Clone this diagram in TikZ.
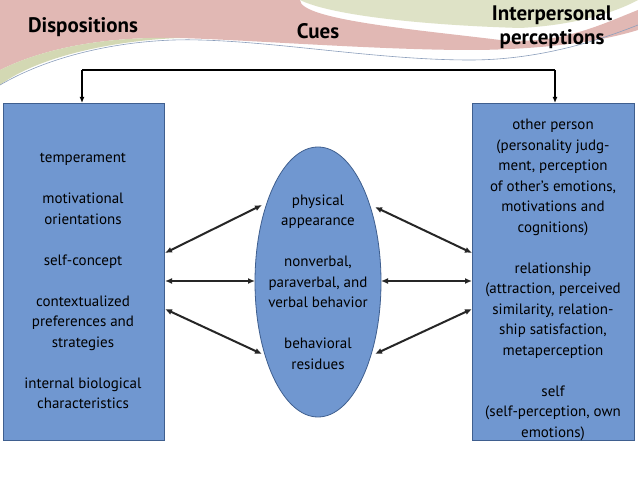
\documentclass[tikz,border=0pt]{standalone}
\usepackage{fontspec}
\setmainfont{PT Sans}
\usetikzlibrary{arrows.meta,shapes.geometric}
\definecolor{boxc}{HTML}{7097D0}
\definecolor{edgec}{HTML}{3F5F8F}
\definecolor{pinkc}{HTML}{D49A94}
\definecolor{greenc}{HTML}{C8CFA0}
\begin{document}
\begin{tikzpicture}[x=1pt,y=-1pt,
  box/.style={draw=edgec,fill=boxc,line width=0.8pt},
  txt/.style={align=center,font=\fontsize{15}{20.5}\selectfont,text=black},
  head/.style={font=\fontsize{21}{24}\selectfont\bfseries,align=center},
  dbl/.style={{Latex[length=7pt,width=6pt]}-{Latex[length=7pt,width=6pt]},line width=2pt,draw=black!85},
  con/.style={-{Latex[length=6pt,width=5pt]},line width=1.6pt}]
\useasboundingbox (0,0) rectangle (638,478);
\fill[white] (0,0) rectangle (638,478);
% decorative header
\fill[pinkc!70] (0,0) -- (300,0) .. controls (300,20) and (420,30) .. (500,40) .. controls (560,45) and (600,25) .. (638,10) -- (638,30) .. controls (590,45) and (520,50) .. (470,50) .. controls (380,50) and (250,40) .. (180,38) .. controls (100,36) and (40,50) .. (0,70) -- cycle;
\fill[greenc!80] (0,70) .. controls (40,50) and (100,36) .. (180,38) .. controls (120,40) and (40,55) .. (0,85) -- cycle;
\fill[greenc!60] (300,0) .. controls (330,15) and (420,25) .. (520,28) .. controls (580,25) and (620,10) .. (638,0) -- cycle;
\draw[edgec!60,line width=0.6pt] (0,85) .. controls (60,50) and (140,38) .. (200,40) .. controls (280,42) and (380,60) .. (470,60) .. controls (540,60) and (600,40) .. (638,25);
% headers
\node[head] (hd) at (83,27) {Dispositions};
\node[head] (hc) at (318,31) {Cues};
\node[head] (hi) at (552,27) {Interpersonal\\perceptions};
% boxes
\node[box,minimum width=161pt,minimum height=337pt,anchor=north west] (L) at (3,103) {};
\node[box,minimum width=162pt,minimum height=337pt,anchor=north west] (R) at (472,103) {};
\node[box,ellipse,minimum width=126pt,minimum height=270pt] (E) at (318,282) {};
\node[txt] (lt) at (83,281) {temperament\\[20.5pt]motivational\\orientations\\[20.5pt]self-concept\\[20.5pt]contextualized\\preferences and\\strategies\\[20.5pt]internal biological\\characteristics};
\node[txt] (et) at (318,282) {physical\\appearance\\[20.5pt]nonverbal,\\paraverbal, and\\verbal behavior\\[20.5pt]behavioral\\residues};
\node[txt] (rt) at (553,280) {other person\\(personality judg-\\ment, perception\\of other's emotions,\\motivations and\\cognitions)\\[20.5pt]relationship\\(attraction, perceived\\similarity, relation-\\ship satisfaction,\\metaperception\\[20.5pt]self\\(self-perception, own\\emotions)};
% top connector
\coordinate (t1) at (82,70);
\coordinate (t2) at (555,70);
\draw[line width=1.6pt] (t1) -- (t2);
\draw[con] (t1) -- (L.north -| t1);
\draw[con] (t2) -- (R.north -| t2);
% double arrows
\draw[dbl] (165,253) -- (262,205);
\draw[dbl] (165,281) -- (255,281);
\draw[dbl] (165,309) -- (262,354);
\draw[dbl] (375,207) -- (472,253);
\draw[dbl] (381,281) -- (472,281);
\draw[dbl] (375,354) -- (472,309);
\end{tikzpicture}
\end{document}
